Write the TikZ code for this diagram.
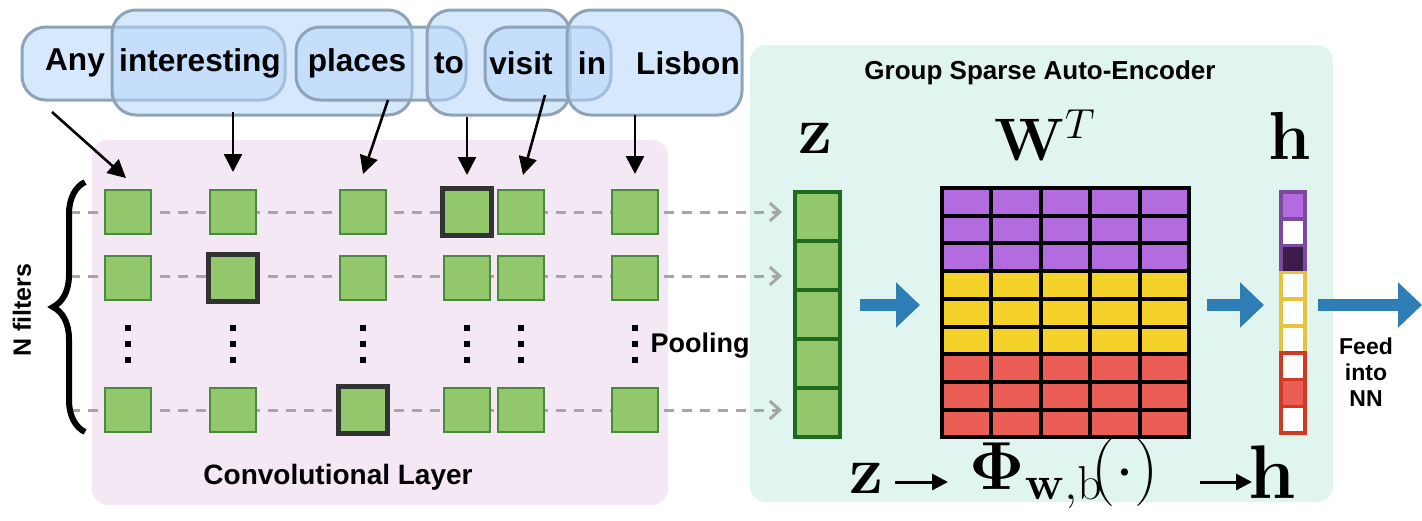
\RequirePackage{fix-cm}
\documentclass[tikz,border=0pt]{standalone}
\usepackage{amsmath}
\usepackage[no-math]{fontspec}
\setmainfont{Liberation Sans}
\usetikzlibrary{arrows.meta,decorations.pathreplacing,calc}
\definecolor{pinkbg}{HTML}{F4E8F4}
\definecolor{greenbg}{HTML}{E0F5F0}
\definecolor{bub}{HTML}{B5D6FA}
\definecolor{bubline}{HTML}{8FA3B8}
\definecolor{sqfill}{HTML}{92C76B}
\definecolor{sqline}{HTML}{4A8A3F}
\definecolor{zline}{HTML}{1E6B1E}
\definecolor{pur}{HTML}{B36BE0}
\definecolor{yel}{HTML}{F5D22A}
\definecolor{red1}{HTML}{EB5E55}
\definecolor{dpur}{HTML}{3B1D4D}
\definecolor{barrow}{HTML}{2E7DB5}
\definecolor{hy}{HTML}{E8C23A}
\definecolor{hr}{HTML}{D03A20}
\definecolor{hp}{HTML}{7B4AA0}
\tikzset{
 bubble/.style={draw=bubline,line width=1.5pt,fill=bub,fill opacity=0.55,rounded corners=12pt},
 word/.style={font=\fontsize{15.8}{18}\selectfont\bfseries},
 sq/.style={draw=sqline,line width=1.3pt,fill=sqfill,minimum width=23pt,minimum height=22pt,inner sep=0pt},
 hl/.style={draw=black!80,line width=2.6pt},
 warrow/.style={-{Triangle[length=9pt,width=9pt]},line width=1.3pt},
 dsh/.style={gray!70,dash pattern=on 5pt off 4pt,line width=1.5pt,-{Straight Barb[length=5pt,width=9pt]}},
 dot/.style={fill=black,minimum size=3.2pt,inner sep=0pt},
 bigarrow/.style={barrow,line width=6pt,-{Triangle[length=12pt,width=22pt]}},
 lab/.style={font=\fontsize{12.5}{14}\selectfont\bfseries},
 cell/.style={black,line width=2pt},
 bigm/.style={font=\fontsize{34}{34}\selectfont},
}
\begin{document}
\begin{tikzpicture}[x=0.5pt,y=-0.5pt]
\useasboundingbox (0,0) rectangle (1422,520);
% panels
\fill[pinkbg,rounded corners=8pt] (92,140) rectangle (668,505);
\fill[greenbg,rounded corners=8pt] (750,45) rectangle (1333,502);
% bubbles
\draw[bubble] (22,27) rectangle (285,100);
\draw[bubble] (112,10) rectangle (412,115);
\draw[bubble] (296,27) rectangle (466,100);
\draw[bubble] (427,10) rectangle (570,115);
\draw[bubble] (485,27) rectangle (611,100);
\draw[bubble] (567,10) rectangle (742,115);
% words
\node[word] (w1) at (75,63) {Any};
\node[word] (w2) at (200,63) {interesting};
\node[word] (w3) at (357,63) {places};
\node[word] (w4) at (449,63) {to};
\node[word] (w5) at (521,63) {visit};
\node[word] (w6) at (592,63) {in};
\node[word] (w7) at (688,63) {Lisbon};
% dashed rows
\foreach \r/\y in {1/212,2/276,4/410}{
 \coordinate (ds\r) at (70,\y);
 \coordinate (de\r) at (782,\y);
 \draw[dsh] (ds\r) -- (de\r);
}
% squares
\foreach \c/\x in {1/128,2/233,3/363,4/467,5/521,6/635}{
 \node[sq] (s1\c) at (\x,212) {};
 \node[sq] (s2\c) at (\x,278) {};
 \node[sq] (s4\c) at (\x,410) {};
 \node[dot] (d\c a) at (\x,328) {};
 \node[dot] (d\c b) at (\x,344) {};
 \node[dot] (d\c c) at (\x,360) {};
}
\draw[hl] (s14.south west) rectangle (s14.north east);
\draw[hl] (s22.south west) rectangle (s22.north east);
\draw[hl] (s43.south west) rectangle (s43.north east);
% word arrows
\coordinate (a1) at (52,112); \coordinate (t1) at (126,178);
\coordinate (a2) at (233,112); \coordinate (t2) at (233,172);
\coordinate (a3) at (388,100); \coordinate (t3) at (363,174);
\coordinate (a4) at (467,117); \coordinate (t4) at (467,175);
\coordinate (a5) at (545,95); \coordinate (t5) at (523,175);
\coordinate (a6) at (635,115); \coordinate (t6) at (635,174);
\foreach \i in {1,...,6}{\draw[warrow] (a\i) -- (t\i);}
% brace
\coordinate (b1) at (85,432); \coordinate (b2) at (85,182);
\draw[decorate,decoration={brace,amplitude=16pt},line width=3pt] (b1) -- (b2);
\node[lab,rotate=90] (nf) at (22,310) {N filters};
\node[font=\fontsize{13.5}{15}\selectfont\bfseries] (pool) at (700,346) {Pooling};
\node[font=\fontsize{14}{16}\selectfont\bfseries] (conv) at (338,477) {Convolutional Layer};
% right panel
\node[font=\fontsize{13}{15}\selectfont\bfseries] (gsae) at (1040,73) {Group Sparse Auto-Encoder};
\node[bigm] (zlab) at (815,138) {$\mathbf{z}$};
\node[font=\fontsize{30}{30}\selectfont] (wlab) at (1045,135) {$\mathbf{W}^{T}$};
\node[bigm] (hlab) at (1290,136) {$\mathbf{h}$};
% z column
\foreach \i in {0,...,4}{
 \draw[zline,line width=1.6pt,fill=sqfill] (795,192+\i*49) rectangle (840,241+\i*49);
}
% matrix
\foreach \r/\cc in {0/pur,1/pur,2/pur,3/yel,4/yel,5/yel,6/red1,7/red1,8/red1}{
 \foreach \c in {0,...,4}{
  \draw[cell,fill=\cc] (942+\c*49.4,188+\r*27.7) rectangle (991.4+\c*49.4,215.7+\r*27.7);
 }
}
% h column
\foreach \r/\f/\l in {0/pur/hp,1/white/hp,2/dpur/hp,3/white/hy,4/white/hy,5/white/hy,6/white/hr,7/red1/hr,8/white/hr}{
 \draw[\l,line width=1.8pt,fill=\f] (1281,192+\r*26.8) rectangle (1305,218.8+\r*26.8);
}
% blue arrows
\coordinate (ba1) at (860,305); \coordinate (bb1) at (920,305);
\coordinate (ba2) at (1207,305); \coordinate (bb2) at (1264,305);
\coordinate (ba3) at (1318,305); \coordinate (bb3) at (1422,305);
\draw[bigarrow] (ba1) -- (bb1);
\draw[bigarrow] (ba2) -- (bb2);
\draw[bigarrow] (ba3) -- (bb3);
\node[align=center,font=\fontsize{11.5}{13}\selectfont\bfseries] (feed) at (1366,372) {Feed\\into\\NN};
% formula
\node[bigm] (fz) at (866,478) {$\mathbf{z}$};
\node[bigm,inner sep=0pt] (fphi) at (1064,474) {$\boldsymbol{\Phi}_{\mathbf{w},\mathrm{b}}\!(\cdot)$};
\node[font=\fontsize{38}{38}\selectfont] (fh) at (1272,472) {$\mathbf{h}$};
\coordinate (fa1) at (895,482); \coordinate (fa2) at (948,482);
\coordinate (fb1) at (1200,482); \coordinate (fb2) at (1252,482);
\draw[-{Triangle[length=8pt,width=8pt]},line width=1.5pt] (fa1) -- (fa2);
\draw[-{Triangle[length=8pt,width=8pt]},line width=1.5pt] (fb1) -- (fb2);
\end{tikzpicture}
\end{document}
